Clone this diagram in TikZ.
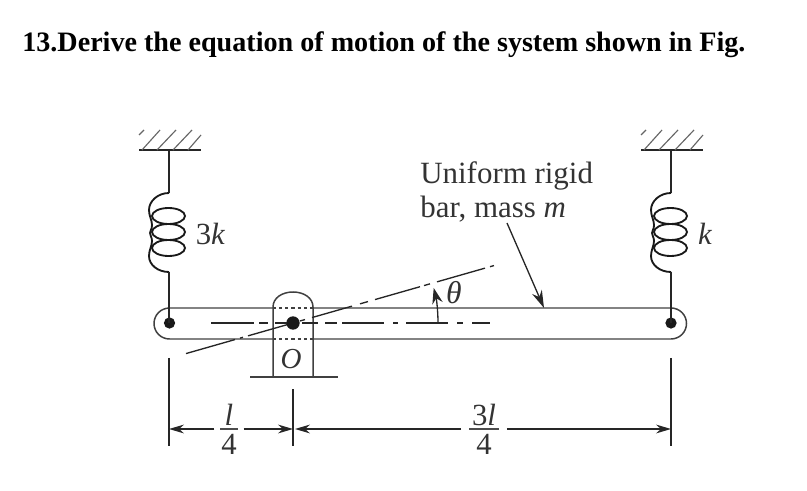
\documentclass[tikz,border=0pt]{standalone}
\usepackage{fontspec}
\setmainfont{Liberation Serif}
\usetikzlibrary{positioning,calc,arrows.meta}
\tikzset{
  barline/.style={line width=0.85pt,black!75},
  thinline/.style={line width=0.75pt,black!85},
  dotline/.style={barline,dash pattern=on 1.8pt off 1.7pt},
  pin/.style={circle,fill=black!90,inner sep=0pt,minimum size=6.4pt},
  lbl/.style={inner sep=0pt,font=\fontsize{17.5}{19}\selectfont,black!80},
  fracrule/.style={fill=black!70,inner sep=0pt,minimum height=0.7pt},
  dimarrow/.style={thinline,-{Stealth[length=8.5pt,width=5pt]}},
}
% one spring with its wall, drawn from the wall line down
\newcommand{\wallcoil}[1]{
  \begin{scope}[shift={(#1)}]
  \draw[thinline] (-30,0)--(32,0);
  \foreach \ax/\ay/\bx/\by in {-30/15/-25/20,-27/0/-9/20,-12/0/7/20,4/0/23/20,19/0/32/15}
    \draw[line width=0.65pt,black!60] (\ax,\ay)--(\bx,\by);
  \draw[thinline] (0,0)--(0,-43);
  \draw[line width=1.05pt,black!90] (0,-43) .. controls (-11,-43) and (-20,-51) .. (-20,-60)
    .. controls (-20,-66) and (-17,-70) .. (-17,-75)
    .. controls (-17,-80) and (-19,-80) .. (-19,-83)
    .. controls (-19,-86) and (-17,-87) .. (-17,-91)
    .. controls (-17,-96) and (-20,-100) .. (-20,-106)
    .. controls (-20,-115) and (-11,-122) .. (0,-122);
  \foreach \cy in {-66,-82,-98}
    \draw[line width=1.05pt,black!90] (-0.5,\cy) ellipse (16.5 and 8);
  \draw[thinline] (0,-122)--(0,-173);
  \end{scope}
}
\begin{document}
\begin{tikzpicture}[x=0.02cm,y=0.02cm]
\useasboundingbox (0,0) rectangle (807,490);
\node[anchor=west,inner sep=0pt,font=\fontsize{16}{18}\bfseries\selectfont] (title) at (22,445) {13.Derive the equation of motion of the system shown in Fig.};

% pins
\node[pin] (pinL) at (169.5,167) {};
\node[pin,minimum size=7.6pt] (pinO) at (293,167) {};
\node[pin] (pinR) at (671,167) {};

% bar
\draw[barline] (273,182)--(169.5,182) arc (90:270:15.5) --(273,151);
\draw[barline] (313,182)--(671,182) arc (90:-90:15.5) --(313,151);
\draw[dotline] (273,182)--(313,182);
\draw[dotline] (273,151)--(313,151);

% support
\draw[barline] (273,113)--(273,183) .. controls (273,192) and (282,198) .. (293,198)
  .. controls (304,198) and (313,192) .. (313,183) --(313,113);
\draw[barline] (250,113)--(338,113);
\node[lbl,font=\fontsize{16.5}{19}\itshape\selectfont] (labO) at (291,131) {O};

% springs
\wallcoil{169,340}
\wallcoil{671,340}
\node[lbl] (lab3k) at (210.5,256) {3\textit{k}};
\node[lbl,font=\fontsize{17.5}{19}\itshape\selectfont] (labk) at (705,256) {k};

% center lines
\foreach \ax/\bx in {211/254,259/268,275/287,302/318,325/337,342/384,393/398,406/448,457/463,472/490}
  \draw[thinline] (\ax,167)--(\bx,167);
\foreach \ax/\bx in {186/235,240/243,248/287,300/305,312/352,360/368,375/420,424/430,437/485,490/494}
  \draw[thinline] (\ax,{167+(\ax-293)*0.2857})--(\bx,{167+(\bx-293)*0.2857});

% angle
\draw[thinline,-{Stealth[length=9pt,width=6pt]}] ($(pinO)+(145,0)$) arc (0:14:145);
\node[lbl,font=\fontsize{18}{19}\itshape\selectfont] (labth) at (454,197) {θ};

% label with leader
\node[lbl,anchor=west,align=left,font=\fontsize{17.6}{19.3}\selectfont] (labbar) at (420,298) {Uniform rigid\\bar, mass \textit{m}};
\coordinate (leadA) at (507,267);
\coordinate (leadB) at (544,182);
\draw[thinline,-{Stealth[length=10pt,width=6pt]}] (leadA)--(leadB);

% dimensions
\coordinate (dimL) at (169,61);
\coordinate (dimM) at (293,61);
\coordinate (dimR) at (671,61);
\draw[thinline] (169,132)--(169,44);
\draw[thinline] (293,101)--(293,44);
\draw[thinline] (671,132)--(671,44);
\node[fracrule,minimum width=9.7pt,outer xsep=3.5pt] (ruleA) at (229,61) {};
\node[lbl] (numA) at (229,75) {\textit{l}};
\node[lbl] (denA) at (229,46) {4};
\node[fracrule,minimum width=17pt,outer xsep=4.5pt] (ruleB) at (484,61) {};
\node[lbl] (numB) at (484,75) {3\textit{l}};
\node[lbl] (denB) at (484,46) {4};
\draw[dimarrow] (ruleA)--(dimL);
\draw[dimarrow] (ruleA)--(dimM);
\draw[dimarrow] (ruleB)--($(dimM)+(2,0)$);
\draw[dimarrow] (ruleB)--(dimR);
\end{tikzpicture}
\end{document}
